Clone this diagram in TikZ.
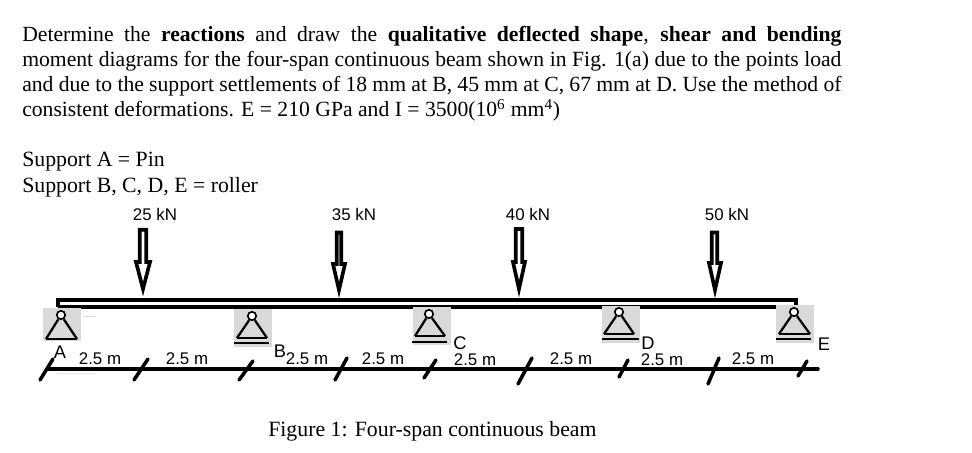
\documentclass[tikz,border=0pt]{standalone}
\usepackage{fontspec}
\setmainfont{Liberation Serif}
\setsansfont{Liberation Sans}
\definecolor{boxgray}{gray}{0.85}
\tikzstyle{para}=[anchor=north west, inner sep=0pt, text width=20.475cm, align=justify, font=\fontsize{15.4}{17.8}\selectfont]
\tikzstyle{plain}=[anchor=west, inner sep=0pt, font=\fontsize{15.5}{17.8}\selectfont]
\tikzstyle{load}=[inner sep=0pt, font=\sffamily\fontsize{12}{14}\selectfont]
\tikzstyle{span}=[inner sep=0pt, font=\sffamily\fontsize{12}{14}\selectfont]
\tikzstyle{letter}=[inner sep=0pt, font=\sffamily\fontsize{13}{14}\selectfont]
\tikzstyle{supportbox}=[fill=boxgray, inner sep=0pt, minimum width=0.95cm, minimum height=0.93cm]
\tikzstyle{hinge}=[circle, draw, fill=white, line width=1.2pt, inner sep=0pt, minimum size=0.21cm]
\tikzstyle{bar}=[line width=1.6pt]
\tikzstyle{beam}=[line width=2.4pt]
\tikzstyle{dimline}=[line width=2.5pt, line cap=round]
\tikzstyle{pointer}=[draw, fill=white, line width=2.6pt, miter limit=10]
\tikzstyle{faint}=[line width=0.7pt, gray!25]

\begin{document}
\begin{tikzpicture}[x=0.025cm, y=-0.025cm]
	\useasboundingbox (0,0) rectangle (972,453);
	\begin{scope}
		\node (intro) at (22,26) [para] {Determine the \textbf{reactions} and draw the \textbf{qualitative deflected shape}, \textbf{shear and bending}\linebreak moment diagrams for the four-span continuous beam shown in Fig. 1(a) due to the points load\linebreak and due to the support settlements of 18 mm at B, 45 mm at C, 67 mm at D. Use the method of\linebreak consistent deformations. E = 210 GPa and I = 3500(10\textsuperscript{6} mm\textsuperscript{4})};
		\node (pin) at (22,162) [plain] {Support A = Pin};
		\node (roller) at (22,187) [plain] {Support B, C, D, E = roller};
		\node (caption) at (268,431) [plain] {Figure 1: Four-span continuous beam};

		\node (q1) at (155,214) [load] {25 kN};
		\node (q2) at (354,214) [load] {35 kN};
		\node (q3) at (528,214) [load] {40 kN};
		\node (q4) at (727,214) [load] {50 kN};
	\end{scope}
	\begin{scope}
		% beam
		\draw [beam] (58,307) -- (58,300) -- (796,300) -- (796,306);
		\draw [beam] (58,307) -- (796,307);

		% loads
		\draw [pointer] (139.8,229.8) -- (146.2,229.8) -- (146.2,262) -- (150,262) -- (143,289) -- (136,262) -- (139.8,262) -- cycle;
		\draw [pointer] (336.8,232.5) -- (341.2,232.5) -- (341.2,264) -- (345,264) -- (339,290) -- (333,264) -- (336.8,264) -- cycle;
		\draw [pointer] (515.8,229) -- (522.2,229) -- (522.2,262) -- (525,262) -- (519,289) -- (513,262) -- (515.8,262) -- cycle;
		\draw [pointer] (711.8,232.5) -- (717.2,232.5) -- (717.2,263) -- (721,263) -- (715,290) -- (709,263) -- (711.8,263) -- cycle;
	\end{scope}
	\begin{scope}
		\node (boxa) at (62,324.5) [supportbox, minimum height=0.825cm] {};
		\node (boxb) at (253,328) [supportbox] {};
		\node (boxc) at (431.5,326) [supportbox] {};
		\node (boxd) at (621,324.5) [supportbox] {};
		\node (boxe) at (795,324) [supportbox] {};

		\coordinate (a1) at (46,339);
		\coordinate (a2) at (77,339);
		\coordinate (b1) at (237,338);
		\coordinate (b2) at (267,338);
		\coordinate (c1) at (415,336);
		\coordinate (c2) at (445,336);
		\coordinate (d1) at (604,334);
		\coordinate (d2) at (634,334);
		\coordinate (e1) at (779,334);
		\coordinate (e2) at (810,334);

		\draw [bar] (a1) -- (a2);
		\draw [bar] (b1) -- (b2);
		\draw [bar] (c1) -- (c2);
		\draw [bar] (d1) -- (d2);
		\draw [bar] (e1) -- (e2);

		\node (a) at (61,315) [hinge] {};
		\node (b) at (252,316) [hinge] {};
		\node (c) at (429,314) [hinge] {};
		\node (d) at (619,312) [hinge] {};
		\node (e) at (794,312) [hinge] {};

		\draw [bar] (a) -- (a1);
		\draw [bar] (a) -- (a2);
		\draw [bar] (b) -- (b1);
		\draw [bar] (b) -- (b2);
		\draw [bar] (c) -- (c1);
		\draw [bar] (c) -- (c2);
		\draw [bar] (d) -- (d1);
		\draw [bar] (d) -- (d2);
		\draw [bar] (e) -- (e1);
		\draw [bar] (e) -- (e2);

		% ground lines
		\coordinate (gb1) at (234,343);
		\coordinate (gb2) at (269,343);
		\coordinate (gc1) at (412,342);
		\coordinate (gc2) at (447,342);
		\coordinate (gd1) at (602,339);
		\coordinate (gd2) at (639,339);
		\coordinate (ge1) at (776,339);
		\coordinate (ge2) at (811,339);
		\draw [bar] (gb1) -- (gb2);
		\draw [bar] (gc1) -- (gc2);
		\draw [bar] (gd1) -- (gd2);
		\draw [bar] (ge1) -- (ge2);

		\node (la) at (60,352) [letter] {A};
		\node (lb) at (280,351) [letter] {B};
		\node (lc) at (460,343) [letter] {C};
		\node (ld) at (648,343) [letter] {D};
		\node (le) at (824,344) [letter] {E};
	\end{scope}
	\begin{scope}
		% dimension line
		\coordinate (s) at (48,369);
		\coordinate (f) at (818,369);
		\draw [dimline] (s) -- (f);

		\coordinate (t1) at (40,380);
		\coordinate (u1) at (53,359);
		\coordinate (t2) at (134,380);
		\coordinate (u2) at (148,359);
		\coordinate (t3) at (239,380);
		\coordinate (u3) at (253,361);
		\coordinate (t4) at (335,380);
		\coordinate (u4) at (347,358);
		\coordinate (t5) at (424,378);
		\coordinate (u5) at (436,360);
		\coordinate (t6) at (518,384);
		\coordinate (u6) at (532,358);
		\coordinate (t7) at (619,377);
		\coordinate (u7) at (628,360);
		\coordinate (t8) at (708,384);
		\coordinate (u8) at (719,358);
		\coordinate (t9) at (798,376);
		\coordinate (u9) at (807,361);
		\draw [dimline] (t1) -- (u1);
		\draw [dimline] (t2) -- (u2);
		\draw [dimline] (t3) -- (u3);
		\draw [dimline] (t4) -- (u4);
		\draw [dimline] (t5) -- (u5);
		\draw [dimline] (t6) -- (u6);
		\draw [dimline] (t7) -- (u7);
		\draw [dimline] (t8) -- (u8);
		\draw [dimline] (t9) -- (u9);

		\node (l1) at (100,359) [span] {2.5 m};
		\node (l2) at (187,359) [span] {2.5 m};
		\node (l3) at (307,359) [span] {2.5 m};
		\node (l4) at (383,359) [span] {2.5 m};
		\node (l5) at (475,360) [span] {2.5 m};
		\node (l6) at (571,359) [span] {2.5 m};
		\node (l7) at (662,360) [span] {2.5 m};
		\node (l8) at (753,359) [span] {2.5 m};

		\draw [faint] (83,316) -- (96,316);
		\draw [faint] (57,373) -- (96,373);
	\end{scope}
\end{tikzpicture}
\end{document}
